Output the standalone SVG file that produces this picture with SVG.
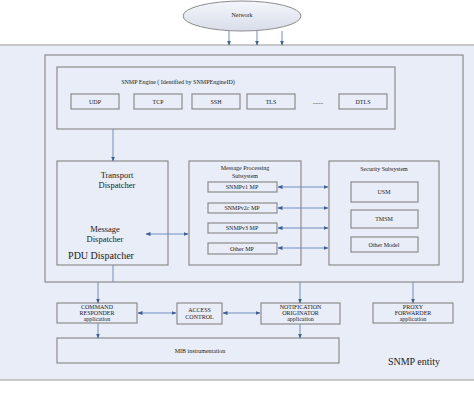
<svg xmlns="http://www.w3.org/2000/svg" width="474" height="407" viewBox="0 0 474 407">
<defs>
<marker id="ah" viewBox="0 0 10 10" refX="9" refY="5" markerWidth="5" markerHeight="5" orient="auto-start-reverse">
<path d="M0,1 L10,5 L0,9 z" fill="#3d5f95"/>
</marker>
<linearGradient id="eg" x1="0" y1="0" x2="0" y2="1">
<stop offset="0" stop-color="#f4f6fb"/>
<stop offset="1" stop-color="#d8dde9"/>
</linearGradient>
</defs>
<style>
.box{fill:#e9edf7;stroke:#8c8c8c;stroke-width:1.2}
.ibox{fill:#e9edf7;stroke:#8c8c8c;stroke-width:1.2}
.t{font-family:"Liberation Serif",serif;fill:#222;text-anchor:middle}
.s{font-size:6px}
.m{font-size:8.5px}
.l{font-size:10px}
.c{stroke:#6f8fc0;stroke-width:1;fill:none}
</style>
<rect x="0" y="0" width="474" height="407" fill="#ffffff"/>
<g id="entity">
<rect x="-2" y="45" width="478" height="335" fill="#e9edf7" stroke="#a8a8a8" stroke-width="1.2"/>
<text class="t l" x="414" y="365">SNMP entity</text>
</g>
<g id="network">
<ellipse cx="242" cy="16" rx="59" ry="15" fill="url(#eg)" stroke="#8c8c8c" stroke-width="1"/>
<text class="t s" x="242" y="17">Network</text>
</g>
<g id="engine-area">
<rect class="box" x="45" y="55" width="418" height="227"/>
</g>
<g id="engine">
<rect class="box" x="57" y="67" width="338" height="62"/>
<text class="t s" x="178" y="84">SNMP Engine ( Identified by SNMPEngineID)</text>
</g>
<g id="tm-udp"><rect class="ibox" x="71" y="94" width="48" height="15"/><text class="t s" x="95" y="103.5">UDP</text></g>
<g id="tm-tcp"><rect class="ibox" x="134" y="94" width="48" height="15"/><text class="t s" x="158" y="103.5">TCP</text></g>
<g id="tm-ssh"><rect class="ibox" x="192" y="94" width="48" height="15"/><text class="t s" x="216" y="103.5">SSH</text></g>
<g id="tm-tls"><rect class="ibox" x="247" y="94" width="48" height="15"/><text class="t s" x="271" y="103.5">TLS</text></g>
<g id="tm-dots"><text class="t s" x="318" y="104">.......</text></g>
<g id="tm-dtls"><rect class="ibox" x="339" y="94" width="48" height="15"/><text class="t s" x="363" y="103.5">DTLS</text></g>
<g id="dispatcher">
<rect class="box" x="57" y="161" width="111" height="104"/>
<text class="t m" x="117" y="178">Transport</text>
<text class="t m" x="117" y="188">Dispatcher</text>
<text class="t m" x="105" y="232">Message</text>
<text class="t m" x="105" y="242">Dispatcher</text>
<text class="t l" x="101" y="259">PDU Dispatcher</text>
</g>
<g id="mp">
<rect class="box" x="189" y="161" width="112" height="104"/>
<text class="t s" x="245" y="170">Message Processing</text>
<text class="t s" x="245" y="178">Subsystem</text>
</g>
<g id="mp1"><rect class="ibox" x="208" y="182" width="69" height="10"/><text class="t s" x="242" y="189">SNMPv1 MP</text></g>
<g id="mp2"><rect class="ibox" x="208" y="203" width="69" height="10"/><text class="t s" x="242" y="210">SNMPv2c MP</text></g>
<g id="mp3"><rect class="ibox" x="208" y="223" width="69" height="10"/><text class="t s" x="242" y="230">SNMPv3 MP</text></g>
<g id="mp4"><rect class="ibox" x="208" y="243" width="69" height="11"/><text class="t s" x="242" y="250.5">Other MP</text></g>
<g id="sec">
<rect class="box" x="329" y="161" width="110" height="104"/>
<text class="t s" x="384" y="171">Security Subsystem</text>
</g>
<g id="usm"><rect class="ibox" x="351" y="182" width="67" height="20"/><text class="t s" x="384" y="194">USM</text></g>
<g id="tmsm"><rect class="ibox" x="351" y="210" width="67" height="18"/><text class="t s" x="384" y="221">TMSM</text></g>
<g id="other"><rect class="ibox" x="351" y="237" width="67" height="15"/><text class="t s" x="384" y="246.5">Other Model</text></g>
<g id="cr">
<rect class="box" x="57" y="303" width="80" height="20"/>
<text class="t s" x="97" y="309">COMMAND</text>
<text class="t s" x="97" y="315">RESPONDER</text>
<text class="t s" x="97" y="321">application</text>
</g>
<g id="ac">
<rect class="box" x="177" y="303" width="45" height="21"/>
<text class="t s" x="199.5" y="312">ACCESS</text>
<text class="t s" x="199.5" y="319">CONTROL</text>
</g>
<g id="no">
<rect class="box" x="261" y="303" width="79" height="21"/>
<text class="t s" x="300.5" y="309">NOTIFICATION</text>
<text class="t s" x="300.5" y="315">ORIGINATOR</text>
<text class="t s" x="300.5" y="321">application</text>
</g>
<g id="pf">
<rect class="box" x="373" y="303" width="80" height="20"/>
<text class="t s" x="413" y="309">PROXY</text>
<text class="t s" x="413" y="315">FORWARDER</text>
<text class="t s" x="413" y="321">application</text>
</g>
<g id="mib">
<rect class="box" x="57" y="338" width="282" height="25"/>
<text class="t s" x="200" y="353">MIB instrumentation</text>
</g>
<g id="connectors">
<line class="c" x1="229" y1="31" x2="229" y2="45" marker-end="url(#ah)"/>
<line class="c" x1="257" y1="31" x2="257" y2="45" marker-end="url(#ah)"/>
<line class="c" x1="282" y1="31" x2="282" y2="45" marker-end="url(#ah)"/>
<line class="c" x1="113" y1="129" x2="113" y2="161" marker-end="url(#ah)"/>
<line class="c" x1="146" y1="234" x2="188" y2="234" marker-start="url(#ah)" marker-end="url(#ah)"/>
<line class="c" x1="278" y1="187" x2="328" y2="187" marker-start="url(#ah)" marker-end="url(#ah)"/>
<line class="c" x1="278" y1="208" x2="328" y2="208" marker-start="url(#ah)" marker-end="url(#ah)"/>
<line class="c" x1="278" y1="228" x2="328" y2="228" marker-start="url(#ah)" marker-end="url(#ah)"/>
<line class="c" x1="278" y1="248" x2="328" y2="248" marker-start="url(#ah)" marker-end="url(#ah)"/>
<line class="c" x1="113" y1="265" x2="113" y2="282"/>
<line class="c" x1="98" y1="282" x2="98" y2="303" marker-end="url(#ah)"/>
<line class="c" x1="300" y1="282" x2="300" y2="303" marker-end="url(#ah)"/>
<line class="c" x1="413" y1="282" x2="413" y2="303" marker-end="url(#ah)"/>
<line class="c" x1="138" y1="313" x2="176" y2="313" marker-start="url(#ah)" marker-end="url(#ah)"/>
<line class="c" x1="223" y1="313" x2="260" y2="313" marker-start="url(#ah)" marker-end="url(#ah)"/>
<line class="c" x1="98" y1="323" x2="98" y2="338" marker-end="url(#ah)"/>
<line class="c" x1="300" y1="324" x2="300" y2="338" marker-end="url(#ah)"/>
</g>
</svg>
